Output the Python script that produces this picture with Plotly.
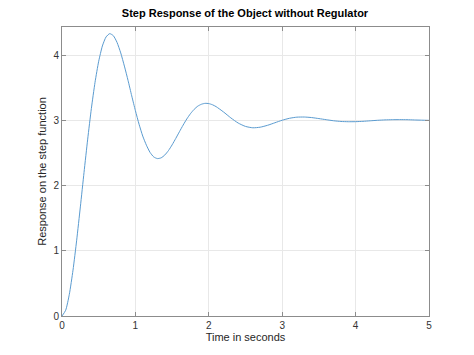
import plotly.graph_objects as go

time_s = [0.0, 0.05, 0.1, 0.15, 0.2, 0.25, 0.3, 0.35, 0.4, 0.45, 0.5, 0.55, 0.6, 0.65,
          0.7, 0.75, 0.8, 0.85, 0.9, 0.95, 1.0, 1.05, 1.1, 1.15, 1.2, 1.25, 1.3, 1.35,
          1.4, 1.45, 1.5, 1.55, 1.6, 1.65, 1.7, 1.75, 1.8, 1.85, 1.9, 1.95, 2.0, 2.05,
          2.1, 2.2, 2.3, 2.4, 2.5, 2.6, 2.7, 2.8, 2.9, 3.0,
          3.1, 3.2, 3.3, 3.4, 3.5, 3.6, 3.7, 3.8, 3.9, 4.0,
          4.1, 4.2, 4.3, 4.4, 4.5, 4.6, 4.7, 4.8, 4.9, 5.0]
response = [0.0, 0.088, 0.333, 0.703, 1.162, 1.672, 2.200, 2.711, 3.180, 3.582, 3.905, 4.139, 4.277, 4.328,
            4.296, 4.193, 4.033, 3.831, 3.610, 3.374, 3.148, 2.939, 2.758, 2.618, 2.507, 2.438, 2.413, 2.424,
            2.467, 2.535, 2.623, 2.722, 2.825, 2.926, 3.020, 3.101, 3.167, 3.217, 3.246, 3.260, 3.256, 3.238,
            3.209, 3.128, 3.037, 2.958, 2.906, 2.885, 2.894, 2.923, 2.962, 3.001,
            3.031, 3.048, 3.050, 3.042, 3.026, 3.009, 2.993, 2.982, 2.978, 2.979,
            2.984, 2.992, 3.000, 3.006, 3.009, 3.010, 3.009, 3.005, 3.002, 2.999]
x_ticks = [0, 1, 2, 3, 4, 5]
y_ticks = [0, 1, 2, 3, 4]

fig = go.Figure()
fig.add_trace(go.Scatter(x=time_s, y=response, mode="lines",
                         line=dict(color="#5a9bd0", width=1, shape="spline", smoothing=0.6),
                         showlegend=False, hoverinfo="skip"))

font_family = "Liberation Sans, Arial, Helvetica"
axis_common = dict(showline=True, mirror="ticks", linecolor="#8c8c8c", linewidth=1,
                   ticks="inside", ticklen=4, tickcolor="#8c8c8c",
                   showgrid=True, gridcolor="#e8e8e8", gridwidth=1, zeroline=False,
                   tickfont=dict(family=font_family, size=10, color="#333333"))

fig.update_layout(
    width=474, height=355,
    margin=dict(l=54, r=53, t=19, b=47),
    paper_bgcolor="white", plot_bgcolor="white",
    title=dict(text="<b>Step Response of the Object without Regulator</b>",
               x=0.5, xanchor="center", y=0.986, yanchor="middle",
               font=dict(family=font_family, size=11, color="black")),
    xaxis=dict(range=[0, 5], tickvals=x_ticks, ticktext=[str(v) for v in x_ticks],
               title=dict(text="Time in seconds", standoff=2,
                          font=dict(family=font_family, size=11, color="#262626")),
               **axis_common),
    yaxis=dict(range=[0, 4.43], tickvals=y_ticks, ticktext=[str(v) for v in y_ticks],
               title=dict(text="Response on the step function", standoff=4,
                          font=dict(family=font_family, size=11, color="#262626")),
               **axis_common),
)

fig.write_html("out.html")
